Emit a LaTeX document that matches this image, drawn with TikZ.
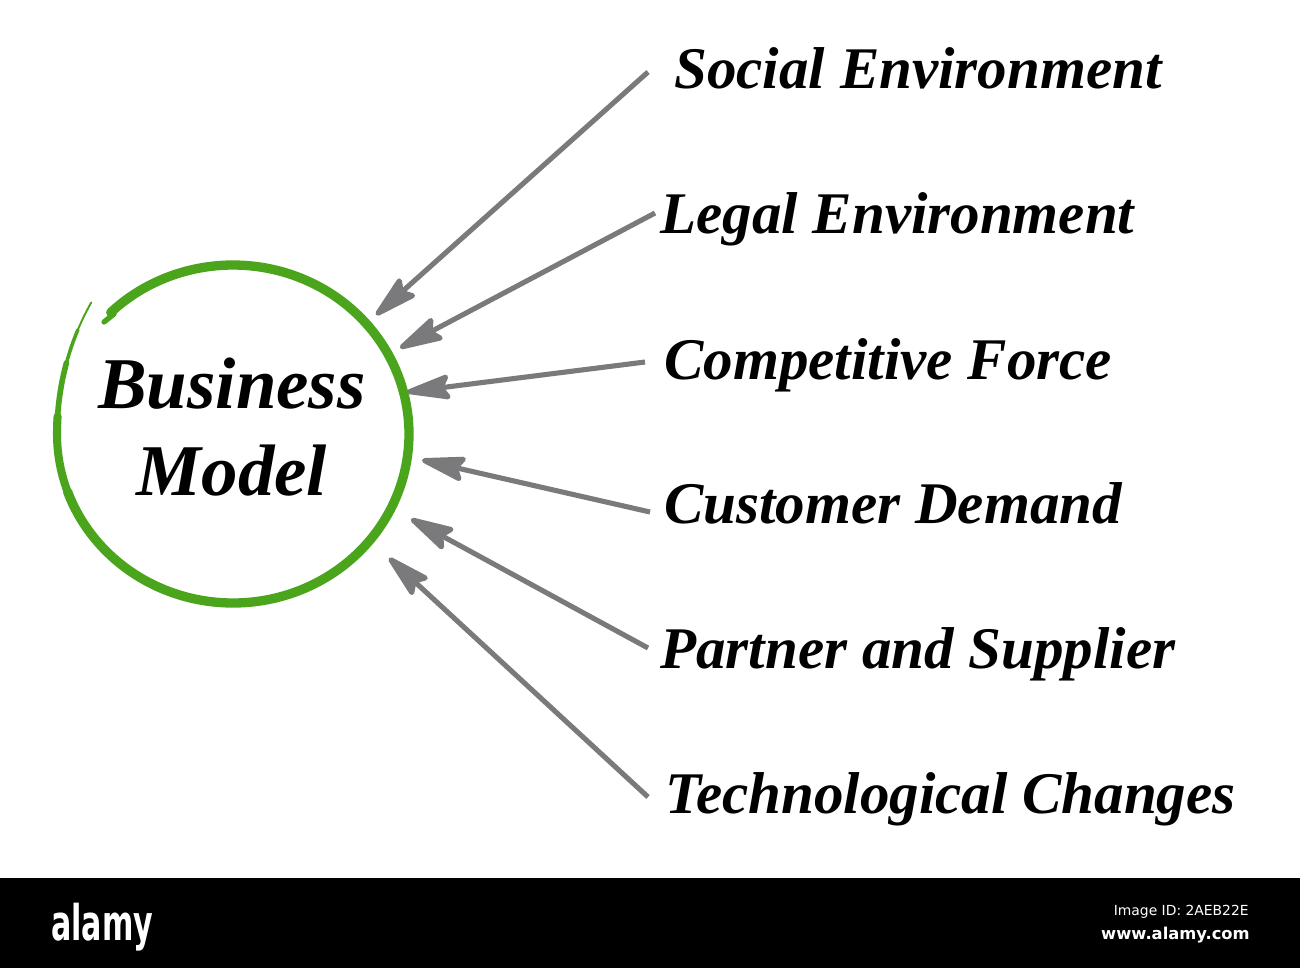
\documentclass[tikz,border=0pt]{standalone}
\usepackage{fontspec}
\setmainfont{Liberation Serif}
\newfontfamily\barfont{DejaVu Sans Condensed}
\newfontfamily\barfontw{DejaVu Sans}
\usetikzlibrary{arrows.meta}
\definecolor{ringgreen}{HTML}{4AA51C}
\definecolor{arrowgray}{HTML}{7A7A7C}
\tikzset{
  lbl/.style={anchor=base west, inner sep=0pt, font=\fontsize{33.6}{40}\selectfont\bfseries\itshape},
  feed/.style={draw=arrowgray, line width=2.9pt, -{Stealth[length=30pt,width=15.5pt,inset=4.6pt,round=false]}, arrowgray},
  ring/.style={draw=ringgreen, line width=5.3pt, line cap=round},
  tail/.style={draw=ringgreen, line cap=round},
  barlbl/.style={inner sep=0pt, text=white},
  declare function={kk(\t)=1+0.12*(max(0,(180-\t)/44))^2;},
}
\begin{document}
\begin{tikzpicture}[x=0.02cm,y=-0.02cm]
\useasboundingbox (0,0) rectangle (1300,968);
\fill[white] (0,0) rectangle (1300,968);
% ring
\draw[ring] plot[domain=134:-160, samples=120, smooth]
  ({233+176*cos(\x)}, {434-169*sin(\x)});
\draw[tail, line width=4.6pt] plot[domain=200:174, samples=20, smooth]
  ({233+176*kk(\x)*cos(\x)}, {434-169*kk(\x)*sin(\x)});
\draw[tail, line width=3.2pt] plot[domain=175:156, samples=20, smooth]
  ({233+176*kk(\x)*cos(\x)}, {434-169*kk(\x)*sin(\x)});
\draw[tail, line width=2pt] plot[domain=157:145, samples=15, smooth]
  ({233+176*kk(\x)*cos(\x)}, {434-169*kk(\x)*sin(\x)});
\draw[tail, line width=1.1pt] plot[domain=146:136, samples=12, smooth]
  ({233+176*kk(\x)*cos(\x)}, {434-169*kk(\x)*sin(\x)});
\draw[ringgreen, line width=3pt, line cap=round] (104,322) -- (114,314);
\node[inner sep=0pt, align=center, font=\fontsize{41.5}{49}\selectfont\bfseries\itshape] (bm) at (232,427) {Business\\Model};
% labels
\node[lbl] (l1) at (674,88) {Social Environment};
\node[lbl] (l2) at (660,233) {Legal Environment};
\node[lbl] (l3) at (664,379) {Competitive Force};
\node[lbl] (l4) at (664,523) {Customer Demand};
\node[lbl] (l5) at (660,668) {Partner and Supplier};
\node[lbl] (l6) at (665,813) {Technological Changes};
% arrow ends
\coordinate (s1) at (648,72);  \coordinate (t1) at (376,315);
\coordinate (s2) at (655,213); \coordinate (t2) at (400,348);
\coordinate (s3) at (645,362); \coordinate (t3) at (407,392);
\coordinate (s4) at (650,512); \coordinate (t4) at (422,460);
\coordinate (s5) at (648,648); \coordinate (t5) at (411,519);
\coordinate (s6) at (648,797); \coordinate (t6) at (389,558);
\foreach \i in {1,...,6} \draw[feed] (s\i) -- (t\i);
% bottom bar
\fill[black] (0,878) rectangle (1300,968);
\node[barlbl, anchor=base west, font=\barfont\bfseries\fontsize{28}{28}\selectfont, xscale=0.68] (al) at (51,940) {alamy};
\node[barlbl, anchor=base east, font=\barfontw\fontsize{7.9}{9}\selectfont] (id) at (1249,915) {Image ID: 2AEB22E};
\node[barlbl, anchor=base east, font=\barfontw\bfseries\fontsize{9.3}{11}\selectfont] (www) at (1250,939) {www.alamy.com};
\end{tikzpicture}
\end{document}
